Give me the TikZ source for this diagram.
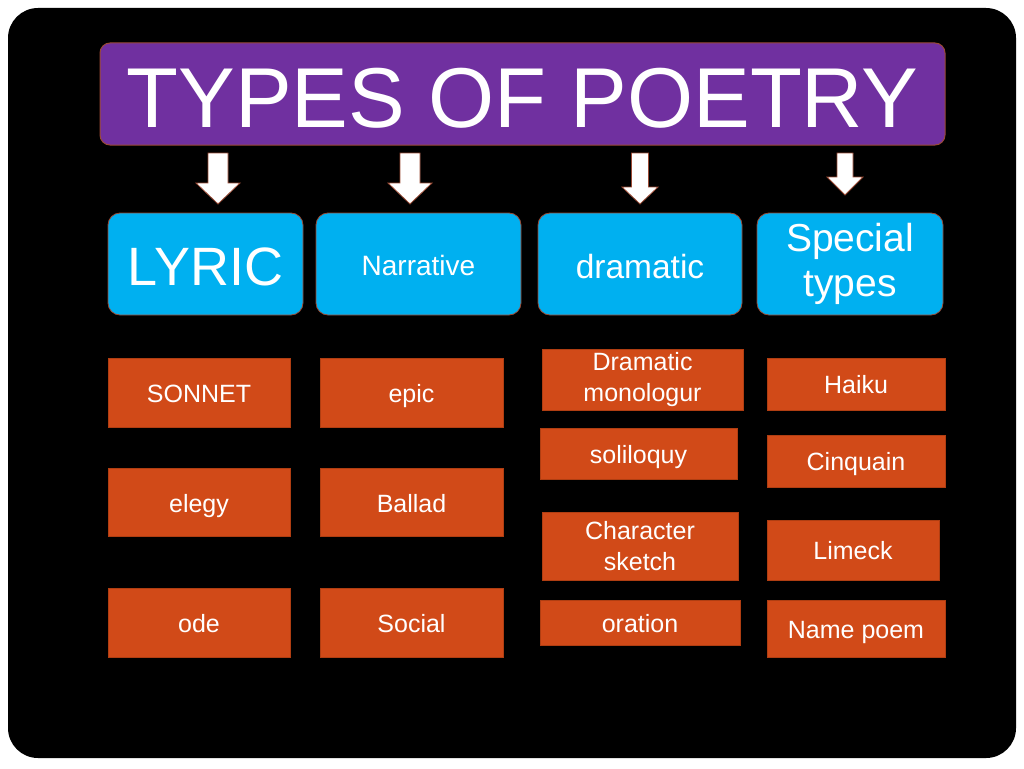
\documentclass[tikz,border=0pt]{standalone}
\usepackage{fontspec}
\setmainfont{Liberation Sans}
\definecolor{ptitle}{HTML}{7030A0}
\definecolor{pblue}{HTML}{00B0F0}
\definecolor{porange}{HTML}{D14A18}
\definecolor{pedge}{HTML}{9A4A35}
\definecolor{oedge}{HTML}{B03E12}
\newcommand{\myblockarrow}[6]{%
  \draw[blockarr] (#1-#5,#2) -- (#1+#5,#2) -- (#1+#5,#3) -- (#1+#6,#3) -- (#1,#4) -- (#1-#6,#3) -- (#1-#5,#3) -- cycle;}
\begin{document}
\begin{tikzpicture}[x=1pt,y=-1pt,
  titlebox/.style={draw=pedge, line width=1pt, fill=ptitle, rounded corners=10pt, text=white, inner sep=0pt, align=center},
  bluebox/.style={draw=pedge, line width=0.8pt, fill=pblue, rounded corners=12pt, text=white, inner sep=0pt, align=center},
  orangebox/.style={draw=oedge, line width=0.8pt, fill=porange, text=white, inner sep=0pt, align=center,
    font=\fontsize{25}{30.5}\selectfont},
  oneline/.style={orangebox, text height=19pt, text depth=0pt},
  blockarr/.style={draw=pedge, line width=0.8pt, fill=white, line join=miter}]
\useasboundingbox (0,0) rectangle (1024,768);
\fill[white] (0,0) rectangle (1024,768);
\fill[black, rounded corners=30pt] (8,8) rectangle (1016,758);

\node[titlebox, minimum width=845pt, minimum height=102pt, font=\fontsize{85}{96}\selectfont, text height=66pt, text depth=0pt] (title) at (522.5,94) {TYPES OF POETRY};

\node[bluebox, minimum width=195pt, minimum height=102pt, font=\fontsize{54}{60}\selectfont, text height=42pt, text depth=0pt] (lyric) at (205.5,264) {LYRIC};
\node[bluebox, minimum width=205pt, minimum height=102pt, font=\fontsize{28}{32}\selectfont, text height=22pt, text depth=0pt] (narrative) at (418.5,264) {Narrative};
\node[bluebox, minimum width=204pt, minimum height=102pt, font=\fontsize{33.5}{40}\selectfont, text height=28pt, text depth=0pt] (dramatic) at (640,264) {dramatic};
\node[bluebox, minimum width=186pt, minimum height=102pt, font=\fontsize{39}{45}\selectfont] (special) at (850,264) {Special\\types};

\myblockarrow{218}{153}{183}{204}{10}{22}
\myblockarrow{410}{153}{183}{204}{10}{22}
\myblockarrow{640}{153}{187}{204}{8.5}{18}
\myblockarrow{845}{153}{177}{195}{8}{18}

\node[oneline, minimum width=182pt, minimum height=69pt] (sonnet) at (199,392.5) {SONNET};
\node[oneline, minimum width=182pt, minimum height=68pt] (elegy) at (199,502.5) {elegy};
\node[oneline, minimum width=182pt, minimum height=69pt] (ode) at (199,622.5) {ode};

\node[oneline, minimum width=183pt, minimum height=69pt] (epic) at (411.5,392.5) {epic};
\node[oneline, minimum width=183pt, minimum height=68pt] (ballad) at (411.5,502.5) {Ballad};
\node[oneline, minimum width=183pt, minimum height=69pt] (social) at (411.5,622.5) {Social};

\node[orangebox, minimum width=201pt, minimum height=61pt] (dmono) at (642.5,379.5) {Dramatic\\monologur};
\node[oneline, minimum width=197pt, minimum height=51pt] (solil) at (638.5,453.5) {soliloquy};
\node[orangebox, minimum width=196pt, minimum height=68pt] (charsk) at (640,546) {Character\\sketch};
\node[oneline, minimum width=200pt, minimum height=45pt] (oration) at (640,622.5) {oration};

\node[oneline, minimum width=178pt, minimum height=52pt] (haiku) at (856,384) {Haiku};
\node[oneline, minimum width=178pt, minimum height=52pt] (cinq) at (856,461) {Cinquain};
\node[oneline, minimum width=172pt, minimum height=60pt] (limeck) at (853,550) {Limeck};
\node[oneline, minimum width=178pt, minimum height=57pt] (namep) at (856,628.5) {Name poem};
\end{tikzpicture}
\end{document}
